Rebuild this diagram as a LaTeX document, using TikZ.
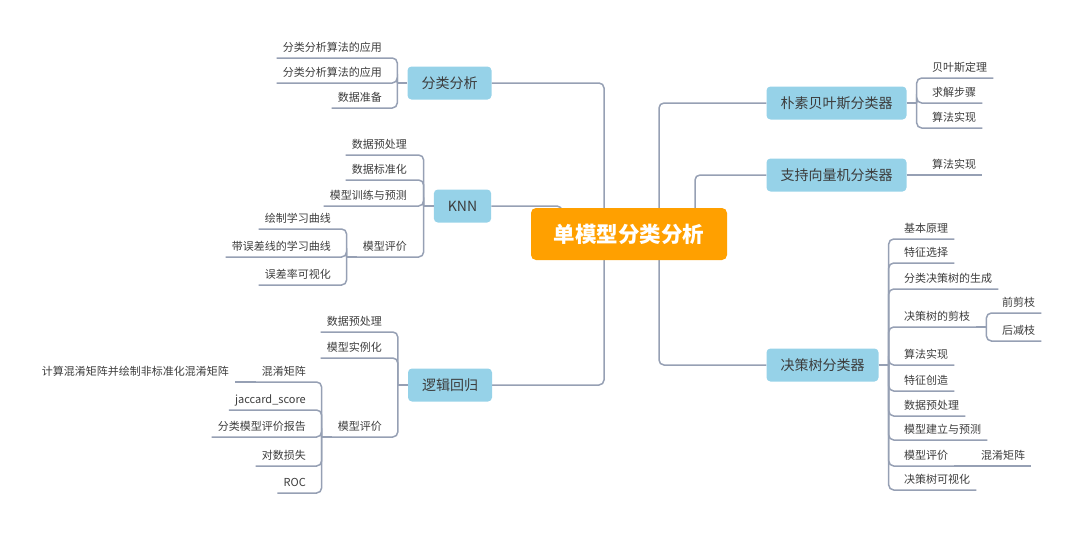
\documentclass[tikz,border=0pt]{standalone}
\usepackage{fontspec}
\setmainfont{Noto Sans CJK SC}
\usepackage{xcolor}
\usepackage{tikz}
\usetikzlibrary{positioning, backgrounds}

\definecolor{huborange}{RGB}{255,160,0}
\definecolor{boxblue}{RGB}{150,210,232}
\definecolor{linegray}{RGB}{150,160,180}
\definecolor{textgray}{RGB}{60,60,60}

\begin{document}
\begin{tikzpicture}[x=1pt, y=-1pt,
    link/.style={draw=linegray, line width=1.5pt, rounded corners=5pt},
    hub/.style={fill=huborange, rounded corners=5pt, text=white,
        font=\fontsize{21.5}{24}\selectfont\bfseries,
        minimum width=196pt, minimum height=52pt},
    branch/.style={fill=boxblue, rounded corners=4pt, text=textgray,
        font=\fontsize{14}{16}\selectfont, inner xsep=14pt, minimum height=33pt},
    leaf/.style={text=textgray, font=\fontsize{11}{13}\selectfont,
        inner xsep=6pt, inner ysep=0pt, text height=9pt, text depth=2pt,
        minimum height=20pt},
    lleaf/.style={leaf, anchor=south east},
    rleaf/.style={leaf, anchor=south west}]
    \useasboundingbox (0,0) rectangle (1080,533);

    % 1. 中心主题
    \node[hub] (hub) at (629,234) {单模型分类分析};

    % 2. 左侧分支
    \node[branch] (fl) at (449.5,83) {分类分析};
    \node[branch, minimum width=57pt] (knn) at (462.5,206) {KNN};
    \node[branch] (lr) at (450,385) {逻辑回归};

    % 3. 右侧分支
    \node[branch] (nb) at (836.5,103) {朴素贝叶斯分类器};
    \node[branch] (svm) at (836.5,175) {支持向量机分类器};
    \node[branch] (dt) at (822.5,365) {决策树分类器};

    % 4. 分类分析
    \node[lleaf] (f1) at (388,58) {分类分析算法的应用};
    \node[lleaf] (f2) at (388,83) {分类分析算法的应用};
    \node[lleaf] (f3) at (388,108) {数据准备};
    \coordinate (fb) at ([xshift=-10pt]fl.west);
    \draw[link] (fl.west) -- (fb);
    \foreach \c in {f1,f2,f3}
        \draw[link] (fb) |- (\c.south west);

    % 5. KNN
    \node[lleaf] (k1) at (413,155) {数据预处理};
    \node[lleaf] (k2) at (413,180) {数据标准化};
    \node[lleaf] (k3) at (413,206) {模型训练与预测};
    \node[lleaf] (k4) at (413,257) {模型评价};
    \coordinate (kb) at ([xshift=-10pt]knn.west);
    \draw[link] (knn.west) -- (kb);
    \foreach \c in {k1,k2,k3,k4}
        \draw[link] (kb) |- (\c.south west);
    \node[lleaf] (k41) at (337,229) {绘制学习曲线};
    \node[lleaf] (k42) at (337,257) {带误差线的学习曲线};
    \node[lleaf] (k43) at (337,285) {误差率可视化};
    \coordinate (k4b) at ([xshift=-10pt]k4.south west);
    \draw[link] (k4.south west) -- (k4b);
    \foreach \c in {k41,k42,k43}
        \draw[link] (k4b) |- (\c.south west);

    % 6. 逻辑回归
    \node[lleaf] (l1) at (388,332) {数据预处理};
    \node[lleaf] (l2) at (388,358) {模型实例化};
    \node[lleaf] (l3) at (388,437) {模型评价};
    \coordinate (lb) at ([xshift=-10pt]lr.west);
    \draw[link] (lr.west) -- (lb);
    \foreach \c in {l1,l2,l3}
        \draw[link] (lb) |- (\c.south west);
    \node[lleaf] (l31) at (312,382) {混淆矩阵};
    \node[lleaf] (l32) at (312,410) {jaccard\_score};
    \node[lleaf] (l33) at (312,437) {分类模型评价报告};
    \node[lleaf] (l34) at (312,466) {对数损失};
    \node[lleaf] (l35) at (312,493) {ROC};
    \coordinate (l3b) at ([xshift=-10pt]l3.south west);
    \draw[link] (l3.south west) -- (l3b);
    \foreach \c in {l31,l32,l33,l34,l35}
        \draw[link] (l3b) |- (\c.south west);
    \node[lleaf] (l311) at (235,382) {计算混淆矩阵并绘制非标准化混淆矩阵};
    \draw[link] (l31.south west) -- (l311.south east);

    % 7. 朴素贝叶斯 / 支持向量机
    \node[rleaf] (n1) at (926,78) {贝叶斯定理};
    \node[rleaf] (n2) at (926,103) {求解步骤};
    \node[rleaf] (n3) at (926,128) {算法实现};
    \coordinate (nbb) at ([xshift=10pt]nb.east);
    \draw[link] (nb.east) -- (nbb);
    \foreach \c in {n1,n2,n3}
        \draw[link] (nbb) |- (\c.south east);
    \node[rleaf] (s1) at (926,175) {算法实现};
    \draw[link] (svm.east) -- (s1.south east);

    % 8. 决策树
    \node[rleaf] (d1) at (898,239) {基本原理};
    \node[rleaf] (d2) at (898,263) {特征选择};
    \node[rleaf] (d3) at (898,289) {分类决策树的生成};
    \node[rleaf] (d4) at (898,327) {决策树的剪枝};
    \node[rleaf] (d5) at (898,365) {算法实现};
    \node[rleaf] (d6) at (898,391) {特征创造};
    \node[rleaf] (d7) at (898,416) {数据预处理};
    \node[rleaf] (d8) at (898,440) {模型建立与预测};
    \node[rleaf] (d9) at (898,466) {模型评价};
    \node[rleaf] (d10) at (898,490) {决策树可视化};
    \coordinate (dtb) at ([xshift=10pt]dt.east);
    \draw[link] (dt.east) -- (dtb);
    \foreach \c in {d1,d2,d3,d4,d5,d6,d7,d8,d9,d10}
        \draw[link] (dtb) |- (\c.south east);
    \node[rleaf] (d41) at (996,313) {前剪枝};
    \node[rleaf] (d42) at (996,341) {后减枝};
    \coordinate (d4b) at ([xshift=10pt]d4.south east);
    \draw[link] (d4.south east) -- (d4b);
    \foreach \c in {d41,d42}
        \draw[link] (d4b) |- (\c.south east);
    \node[rleaf] (d91) at (975,466) {混淆矩阵};
    \draw[link] (d9.south east) -- (d91.south east);

    % 9. 中心连线
    \begin{pgfonlayer}{background}
        \draw[link] ([xshift=-25pt]hub.center) |- (fl.east);
        \draw[link] ([xshift=-25pt]hub.center) |- (lr.east);
        \draw[link] (knn.east) -| ([xshift=-67pt]hub.center);
        \draw[link] ([xshift=30pt]hub.center) |- (nb.west);
        \draw[link] ([xshift=30pt]hub.center) |- (dt.west);
        \draw[link] ([xshift=66pt]hub.center) |- (svm.west);
    \end{pgfonlayer}
\end{tikzpicture}
\end{document}
